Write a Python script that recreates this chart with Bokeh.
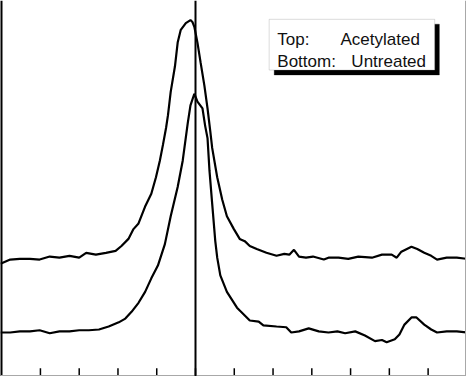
from bokeh.plotting import figure
from bokeh.models import Range1d, Span, BoxAnnotation, Label
from bokeh.embed import file_html
from bokeh.resources import INLINE

# Acetylated (top trace): channel offset vs intensity
top_x = [-5.03, -4.78, -4.53, -4.27, -4.02, -3.76, -3.51, -3.25, -3.00, -2.82,
         -2.57, -2.31, -2.06, -1.91, -1.73, -1.60, -1.47, -1.30, -1.14, -1.02,
         -0.92, -0.84, -0.76, -0.71, -0.64, -0.53, -0.46, -0.38, -0.25, -0.13,
         -0.08, -0.03, 0.05, 0.13, 0.23, 0.31, 0.38, 0.43, 0.56, 0.69,
         0.81, 0.99, 1.14, 1.27, 1.40, 1.58, 1.83, 2.09, 2.29, 2.42,
         2.54, 2.67, 2.85, 3.03, 3.31, 3.43, 3.69, 3.94, 4.20, 4.55,
         4.81, 5.06, 5.19, 5.31, 5.57, 5.72, 5.90, 6.08, 6.23, 6.48,
         6.74, 6.99]
top_y = [30.0, 31.1, 31.3, 31.3, 31.1, 31.9, 31.6, 32.1, 31.6, 32.9,
         32.4, 32.9, 33.4, 34.7, 36.6, 39.2, 40.7, 45.2, 48.6, 53.0,
         57.4, 61.6, 66.1, 69.5, 75.7, 82.5, 88.8, 92.2, 94.0, 94.8,
         94.3, 93.0, 88.8, 83.6, 77.3, 71.3, 65.3, 60.8, 53.0, 47.0,
         42.6, 39.2, 36.6, 36.0, 34.7, 33.9, 32.9, 32.1, 32.6, 32.4,
         33.7, 31.9, 31.6, 31.9, 31.1, 31.6, 31.6, 31.3, 31.9, 31.6,
         32.4, 32.4, 31.6, 33.2, 34.5, 33.9, 32.9, 32.1, 31.1, 31.6,
         31.6, 31.3]

# Untreated (bottom trace)
bot_x = [-5.03, -4.78, -4.53, -4.27, -4.02, -3.76, -3.51, -3.25, -3.00, -2.75,
         -2.49, -2.24, -1.98, -1.81, -1.65, -1.47, -1.30, -1.14, -0.97, -0.79,
         -0.64, -0.46, -0.33, -0.20, -0.13, -0.03, 0.05, 0.18, 0.25, 0.31,
         0.36, 0.43, 0.51, 0.56, 0.64, 0.81, 1.07, 1.40, 1.63, 1.75,
         2.09, 2.34, 2.47, 2.67, 2.92, 3.18, 3.43, 3.66, 3.86, 4.12,
         4.37, 4.63, 4.81, 4.93, 5.14, 5.26, 5.39, 5.57, 5.70, 5.90,
         6.08, 6.23, 6.48, 6.74, 6.99]
bot_y = [11.7, 11.7, 12.0, 12.0, 12.3, 11.5, 12.0, 12.0, 12.3, 12.3,
         12.5, 13.3, 14.4, 15.4, 17.2, 19.6, 22.5, 26.1, 29.5, 35.2,
         42.6, 50.4, 57.4, 67.4, 72.1, 75.2, 73.1, 71.3, 66.6, 63.4,
         54.8, 46.0, 36.0, 31.6, 26.9, 22.5, 18.3, 14.9, 14.6, 13.6,
         13.3, 13.1, 11.7, 12.0, 12.8, 12.0, 11.7, 12.0, 11.5, 12.0,
         10.9, 9.4, 9.7, 9.1, 9.9, 11.2, 13.8, 15.7, 15.7, 13.8,
         12.5, 11.7, 12.0, 12.0, 11.7]

tick_positions = [-4, -3, -2, -1, 0, 1, 2, 3, 4, 5, 6]
legend_lines = [("Top:", "Acetylated"), ("Bottom:", "Untreated")]

X0, X1, Y0, Y1 = -5.03, 6.99, 0, 100

p = figure(width=466, height=376, output_backend="svg", toolbar_location=None,
           x_range=Range1d(X0, X1), y_range=Range1d(Y0, Y1),
           min_border=0, min_border_left=0, min_border_right=0,
           min_border_top=0, min_border_bottom=0)
p.outline_line_color = None
p.grid.visible = False
p.axis.visible = False
p.background_fill_color = "white"
p.border_fill_color = "white"

# frame borders
p.add_layout(Span(location=X0, dimension="height", line_color="black", line_width=4))
p.add_layout(Span(location=X1, dimension="height", line_color="#a8a8a8", line_width=3))
p.add_layout(Span(location=Y0, dimension="width", line_color="#a8a8a8", line_width=3))

# inward ticks along the bottom
p.segment(x0=tick_positions, y0=[Y0] * len(tick_positions),
          x1=tick_positions, y1=[Y0 + 2.2] * len(tick_positions),
          line_color="black", line_width=1.5)

# reference line at zero offset
p.add_layout(Span(location=0, dimension="height", line_color="black", line_width=2))

p.line(top_x, top_y, line_color="black", line_width=2.2)
p.line(bot_x, bot_y, line_color="black", line_width=2.2)

# legend box with shadow
p.add_layout(BoxAnnotation(left=2.03, right=6.29, top=93.7, bottom=80.2,
                           fill_color="black", fill_alpha=1, line_color="black"))
p.add_layout(BoxAnnotation(left=1.90, right=6.17, top=95.0, bottom=81.5,
                           fill_color="white", fill_alpha=1, line_color="#888888",
                           line_width=1))
for i, (k, v) in enumerate(legend_lines):
    yb = 89.6 - i * 5.8
    p.add_layout(Label(x=2.11, y=yb, text=k, text_font="Liberation Sans",
                       text_font_size="17px", text_baseline="alphabetic",
                       text_color="#111111"))
    p.add_layout(Label(x=3.74 + i * 0.28, y=yb, text=v, text_font="Liberation Sans",
                       text_font_size="17px", text_baseline="alphabetic",
                       text_color="#111111"))

open("out.html", "w").write(file_html(p, INLINE))
